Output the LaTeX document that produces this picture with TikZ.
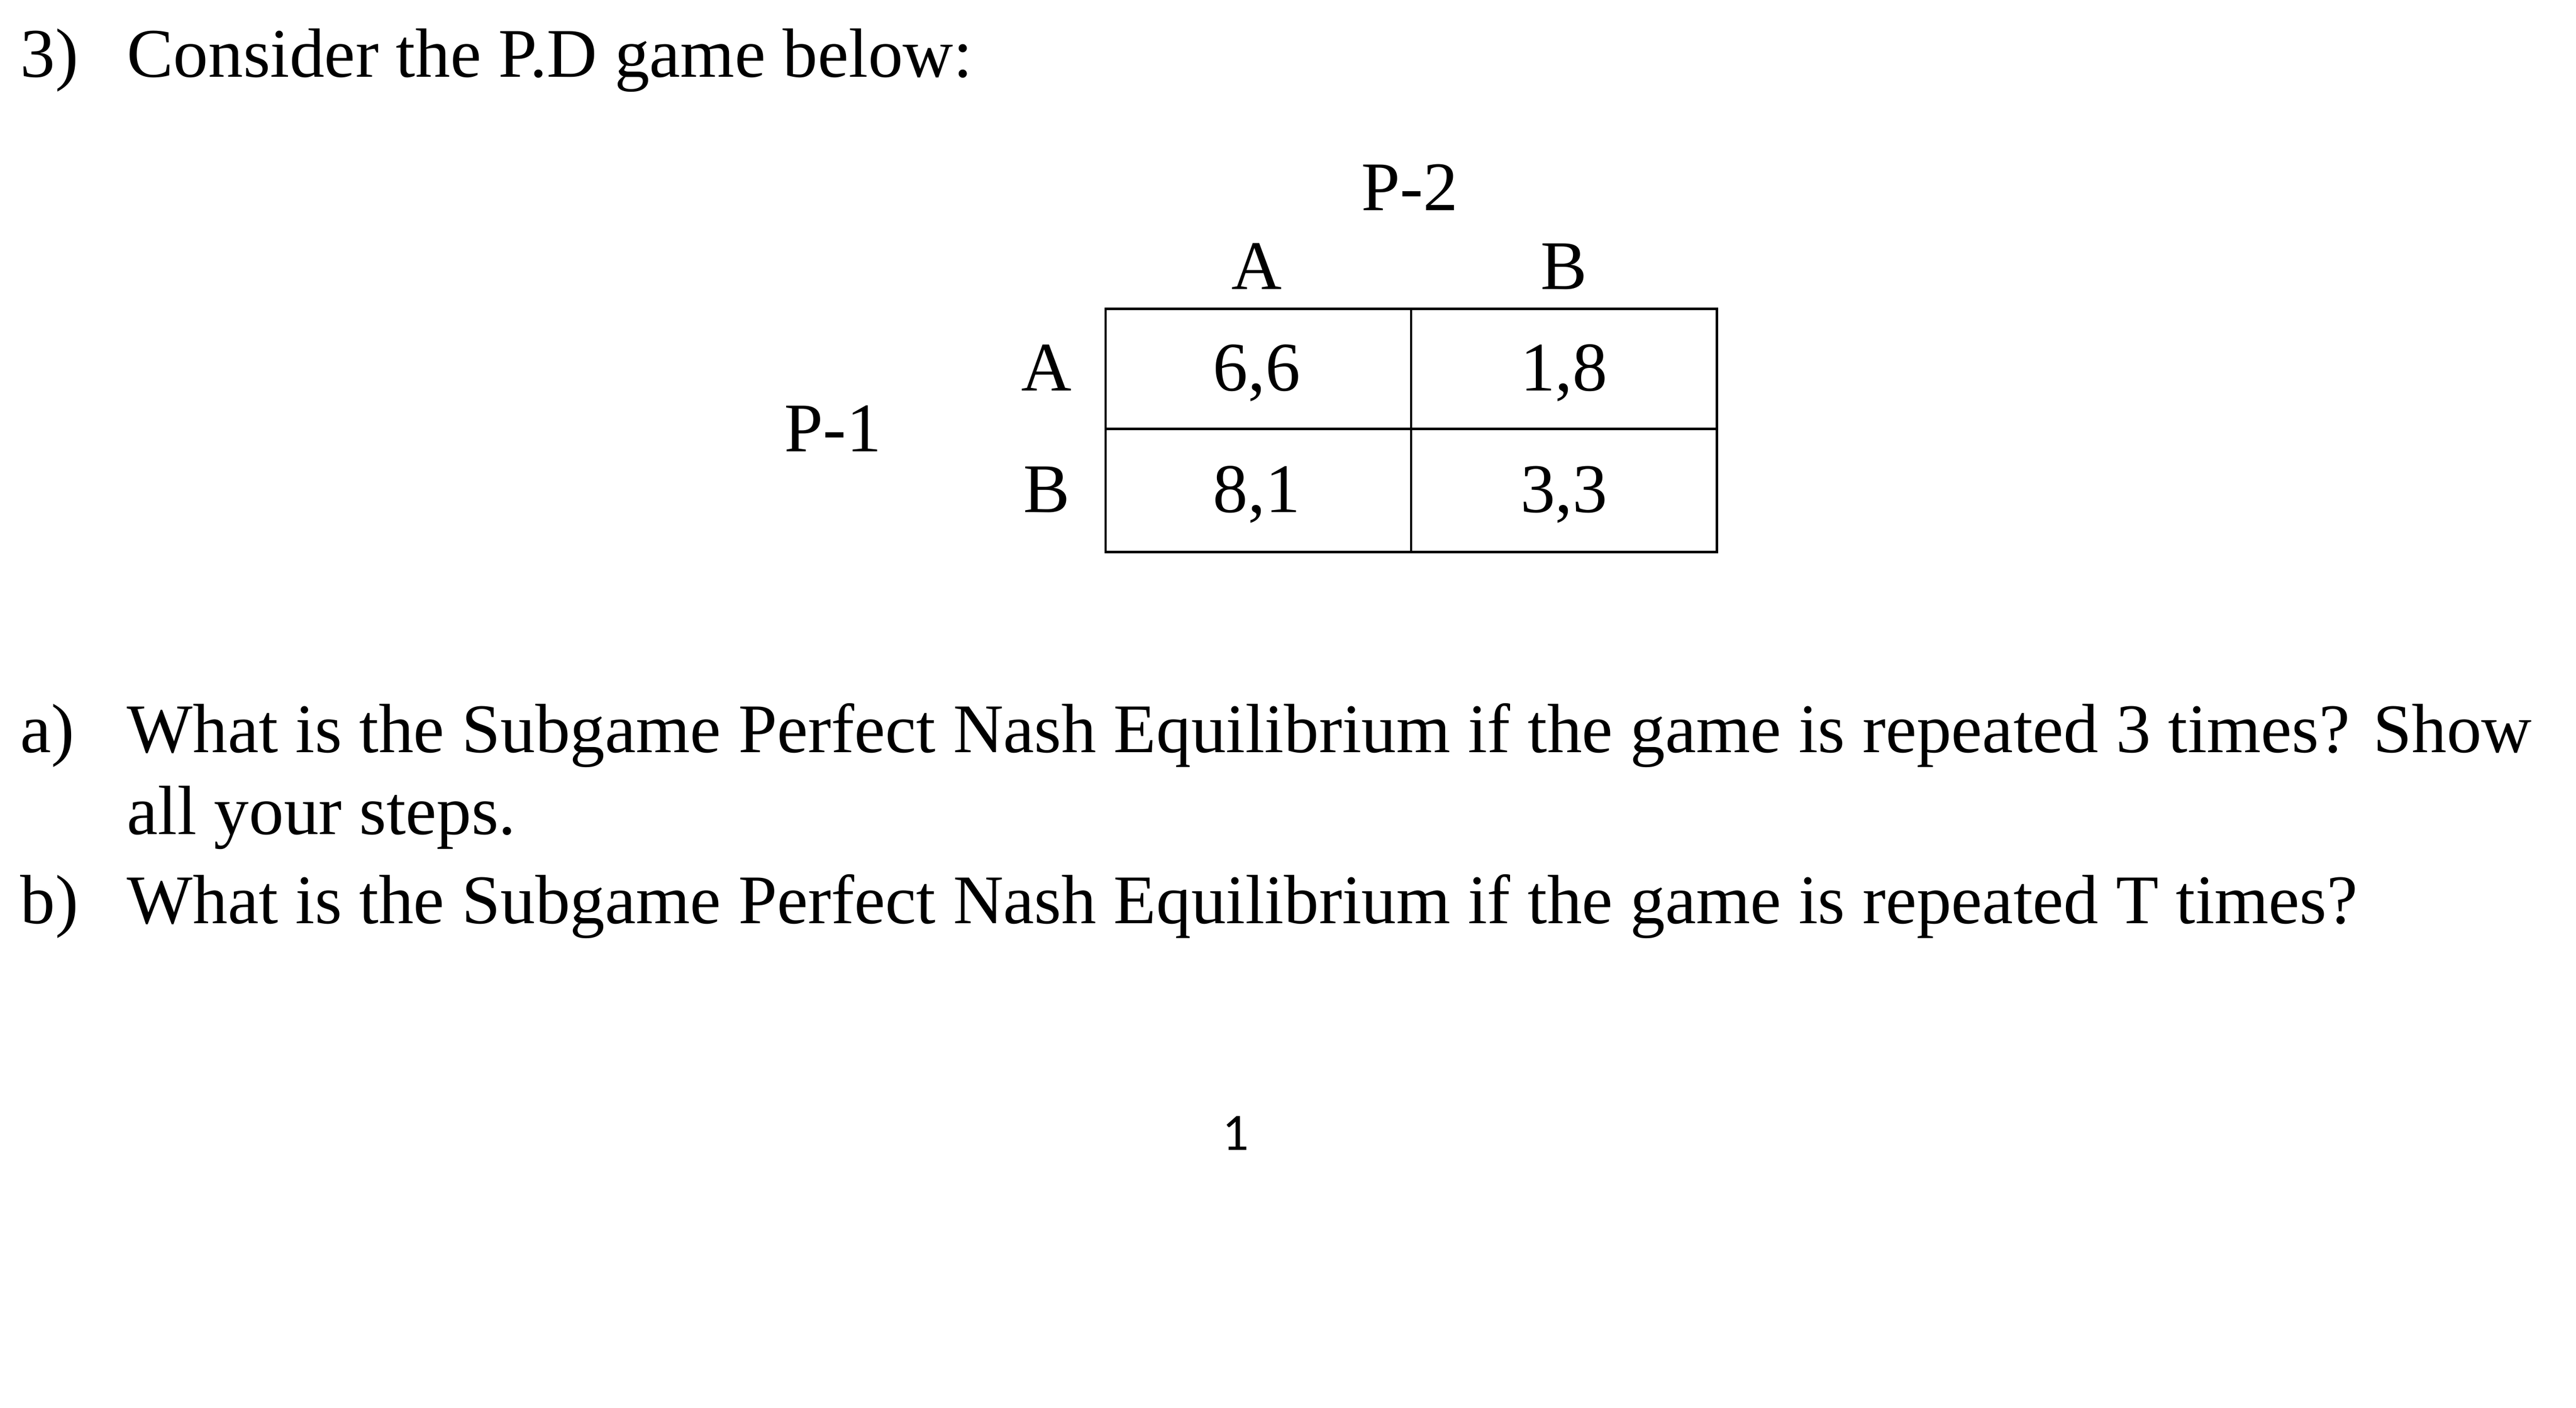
\documentclass[tikz,border=0pt]{standalone}
\usepackage{fontspec}
\setmainfont{Liberation Serif}
\newfontfamily\pagefont{Carlito}
\begin{document}
\begin{tikzpicture}[x=0.5pt,y=-0.5pt,
  txt/.style={anchor=base west,inner sep=0pt,font=\fontsize{21.2}{25}\selectfont},
  ctr/.style={anchor=base,inner sep=0pt,font=\fontsize{21.2}{25}\selectfont},
  grid/.style={draw=black,line width=0.7pt}]
\useasboundingbox[fill=white] (0,0) rectangle (1568,857);
\node[txt] (n3) at (12,47) {3)};
\node[txt] (t3) at (77,47) {Consider the P.D game below:};
\node[ctr] (p2) at (858,128) {P-2};
\node[ctr] (cA) at (765,176) {A};
\node[ctr] (cB) at (952,176) {B};
\node[ctr] (rA) at (637,238) {A};
\node[ctr] (rB) at (637,312) {B};
\node[ctr] (p1) at (507,275) {P-1};
\draw[grid] (673,188) rectangle (1045,336);
\draw[grid] (673,261) -- (1045,261);
\draw[grid] (859,188) -- (859,336);
\node[ctr] (c11) at (765,238) {6,6};
\node[ctr] (c12) at (952,238) {1,8};
\node[ctr] (c21) at (765,312) {8,1};
\node[ctr] (c22) at (952,312) {3,3};
\node[txt] (na) at (12,458) {a)};
\node[txt] (ta) at (77,458) {What is the Subgame Perfect Nash Equilibrium if the game is repeated 3 times? Show};
\node[txt] (ta2) at (77,508) {all your steps.};
\node[txt] (nb) at (12,562) {b)};
\node[txt] (tb) at (77,562) {What is the Subgame Perfect Nash Equilibrium if the game is repeated T times?};
\node[anchor=base,inner sep=0pt,font=\pagefont\fontsize{16}{19}\selectfont] (pg) at (752,700) {1};
\end{tikzpicture}
\end{document}
